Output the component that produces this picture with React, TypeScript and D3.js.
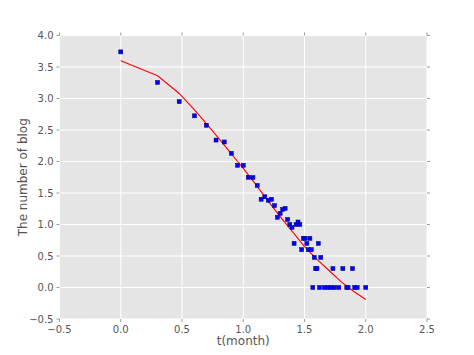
import * as d3 from 'd3'

const W = 474
const H = 355
const M = {left: 59.5, right: 47, top: 35.5, bottom: 36}

// log10(rank) / log10(count) scatter
const pointX = [
  0, 0.301, 0.477, 0.602, 0.699, 0.778, 0.845, 0.903, 0.954, 1.0,
  1.041, 1.079, 1.114, 1.146, 1.176, 1.204, 1.23, 1.255, 1.279, 1.301,
  1.322, 1.342, 1.362, 1.38, 1.398, 1.415, 1.431, 1.447, 1.462, 1.477,
  1.491, 1.505, 1.519, 1.531, 1.544, 1.556, 1.568, 1.58, 1.591, 1.602,
  1.613, 1.623, 1.633, 1.662, 1.69, 1.716, 1.732, 1.744, 1.78, 1.813,
  1.845, 1.856, 1.892, 1.91, 1.93, 2.0,
]
const pointY = [
  3.74, 3.255, 2.95, 2.725, 2.575, 2.34, 2.31, 2.13, 1.94, 1.94,
  1.75, 1.745, 1.62, 1.4, 1.44, 1.385, 1.4, 1.3, 1.115, 1.176,
  1.24, 1.255, 1.08, 1.0, 0.955, 0.7, 1.0, 1.04, 1.0, 0.6,
  0.78, 0.78, 0.7, 0.6, 0.78, 0.6, 0.0, 0.477, 0.3, 0.3,
  0.7, 0.0, 0.477, 0.0, 0.0, 0.0, 0.3, 0.0, 0.0, 0.3,
  0.0, 0.0, 0.3, 0.0, 0.0, 0.0,
]

// fitted curve
const fitX = [0, 0.301, 0.477, 0.602, 0.699, 0.778, 0.845, 0.903, 0.954, 1.0, 1.1, 1.2, 1.3, 1.4, 1.5, 1.6, 1.7, 1.8, 1.9, 2.0]
const fitY = [3.6, 3.36, 3.08, 2.82, 2.6, 2.42, 2.26, 2.12, 2.0, 1.89, 1.64, 1.38, 1.13, 0.89, 0.65, 0.45, 0.27, 0.09, -0.06, -0.19]

const xTicks = [-0.5, 0.0, 0.5, 1.0, 1.5, 2.0, 2.5]
const yTicks = [-0.5, 0.0, 0.5, 1.0, 1.5, 2.0, 2.5, 3.0, 3.5, 4.0]

const FONT = '"DejaVu Sans", sans-serif'
const TXT = '#555555'

export default function App() {
  const x = d3.scaleLinear().domain([-0.5, 2.5]).range([M.left, W - M.right])
  const y = d3.scaleLinear().domain([-0.5, 4.0]).range([H - M.bottom, M.top])
  const fmt = d3.format('.1f')

  const line = d3
    .line<number>()
    .x((_, i) => x(fitX[i]))
    .y((_, i) => y(fitY[i]))
    .curve(d3.curveLinear)

  const [x0, x1] = x.range()
  const [y0, y1] = y.range()
  const s = 4

  return (
    <div style={{position: 'fixed', left: 0, top: 0}}>
      <svg width={W} height={H} style={{display: 'block', background: '#fff'}}>
        <rect x={x0} y={y1} width={x1 - x0} height={y0 - y1} fill="#e5e5e5" />
        <g stroke="#fff" strokeWidth={1}>
          {xTicks.map(t => (
            <line key={'gx' + t} x1={x(t)} x2={x(t)} y1={y1} y2={y0} />
          ))}
          {yTicks.map(t => (
            <line key={'gy' + t} x1={x0} x2={x1} y1={y(t)} y2={y(t)} />
          ))}
        </g>
        <g stroke={TXT} strokeWidth={0.6}>
          {xTicks.map(t => (
            <g key={'tx' + t}>
              <line x1={x(t)} x2={x(t)} y1={y0} y2={y0 + 3} />
              <line x1={x(t)} x2={x(t)} y1={y1} y2={y1 - 3} />
            </g>
          ))}
          {yTicks.map(t => (
            <g key={'ty' + t}>
              <line x1={x0} x2={x0 - 3} y1={y(t)} y2={y(t)} />
              <line x1={x1} x2={x1 + 3} y1={y(t)} y2={y(t)} />
            </g>
          ))}
        </g>
        <g fontFamily={FONT} fontSize={10} fill={TXT}>
          {xTicks.map(t => (
            <text key={'lx' + t} x={x(t)} y={y0 + 14} textAnchor="middle">
              {fmt(t)}
            </text>
          ))}
          {yTicks.map(t => (
            <text key={'ly' + t} x={x0 - 6} y={y(t) + 3.5} textAnchor="end">
              {fmt(t)}
            </text>
          ))}
        </g>
        <text
          x={(x0 + x1) / 2}
          y={H - 10}
          textAnchor="middle"
          fontFamily={FONT}
          fontSize={12}
          fill={TXT}>
          t(month)
        </text>
        <text
          transform={`translate(27,${(y0 + y1) / 2}) rotate(-90)`}
          textAnchor="middle"
          fontFamily={FONT}
          fontSize={12}
          fill={TXT}>
          The number of blog
        </text>
        <path d={line(fitX) || ''} fill="none" stroke="#ff0000" strokeWidth={1.1} />
        <g>
          {pointX.map((px, i) => (
            <rect
              key={i}
              x={x(px) - s / 2}
              y={y(pointY[i]) - s / 2}
              width={s}
              height={s}
              fill="#0000ff"
              stroke="#00007a"
              strokeWidth={0.5}
            />
          ))}
        </g>
      </svg>
    </div>
  )
}
